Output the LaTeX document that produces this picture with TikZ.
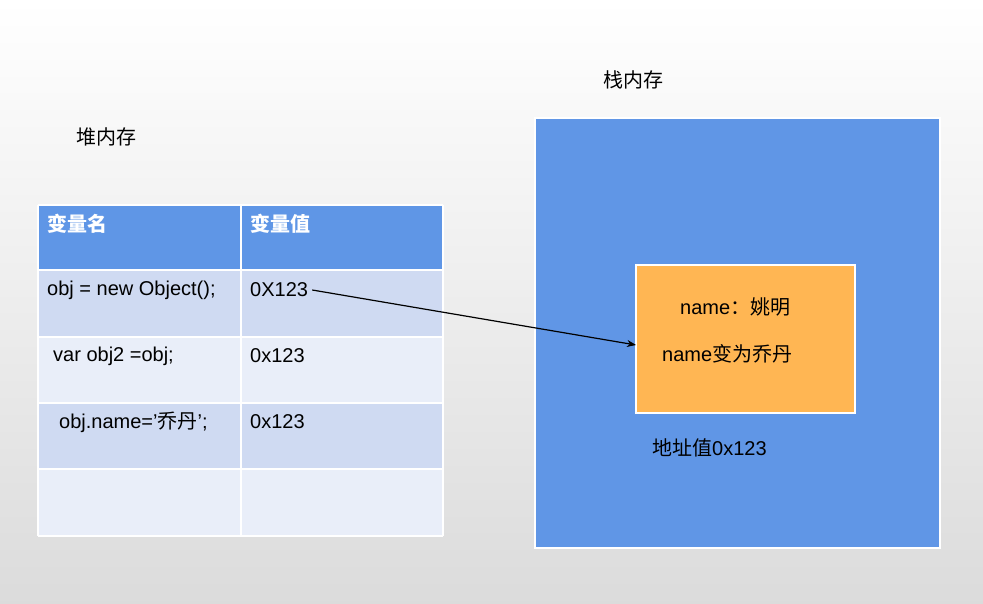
\documentclass[tikz,border=0pt]{standalone}
\usepackage{fontspec}
\usetikzlibrary{arrows.meta}
\setmainfont{Liberation Sans}
\newfontfamily\cjk{Noto Sans CJK SC}
\definecolor{hdr}{HTML}{5F96E6}
\definecolor{rowa}{HTML}{CFDAF2}
\definecolor{rowb}{HTML}{E9EEF9}
\definecolor{stackc}{HTML}{6096E6}
\definecolor{objc}{HTML}{FFB653}
\tikzset{cell/.style={draw=white,line width=1.5pt},
 txt/.style={anchor=west,inner sep=0pt,font=\fontsize{20}{24}\selectfont},
 htxt/.style={txt,text=white,font=\fontsize{20}{24}\selectfont\cjk\bfseries}}
\begin{document}
\begin{tikzpicture}[x=1pt,y=-1pt]
\shade[top color=white,bottom color=black!14] (0,0) rectangle (983,604);
\useasboundingbox (0,0) rectangle (983,604);
\node[txt] (heap) at (76,137) {\cjk 堆内存};
\node[txt] (stack) at (603,80) {\cjk 栈内存};
% table
\fill[hdr] (38,205) rectangle (443,270);
\fill[rowa] (38,270) rectangle (443,337);
\fill[rowb] (38,337) rectangle (443,403);
\fill[rowa] (38,403) rectangle (443,469);
\fill[rowb] (38,469) rectangle (443,536);
\foreach \y in {205,270,337,403,469,536} \draw[cell] (38,\y) -- (443,\y);
\foreach \x in {38,241,443} \draw[cell] (\x,205) -- (\x,536);
\node[htxt] (h1) at (47,224) {变量名};
\node[htxt] (h2) at (250,224) {变量值};
\node[txt] (r1a) at (47,290) {obj = new Object();};
\node[txt] (r1b) at (250,290) {0X123};
\node[txt] (r2a) at (53,356) {var obj2 =obj;};
\node[txt] (r2b) at (250,356) {0x123};
\node[txt] (r3a) at (59,422) {obj.name={\char39}{\cjk 乔丹}{\char39};};
\node[txt] (r3b) at (250,422) {0x123};
% stack
\draw[cell,fill=stackc] (535,118) rectangle (940,548);
\draw[cell,fill=objc] (636,265) rectangle (855,413);
\coordinate (objl) at (636,345);
\node[txt] (n1) at (680,307) {name{\cjk ：姚明}};
\node[txt] (n2) at (662,354) {name{\cjk 变为乔丹}};
\node[txt] (addr) at (652,448) {{\cjk 地址值}0x123};
\draw[-{Stealth[length=9pt,width=7pt]},line width=1.2pt] (r1b.east)++(4,0) -- (objl);
\end{tikzpicture}
\end{document}
